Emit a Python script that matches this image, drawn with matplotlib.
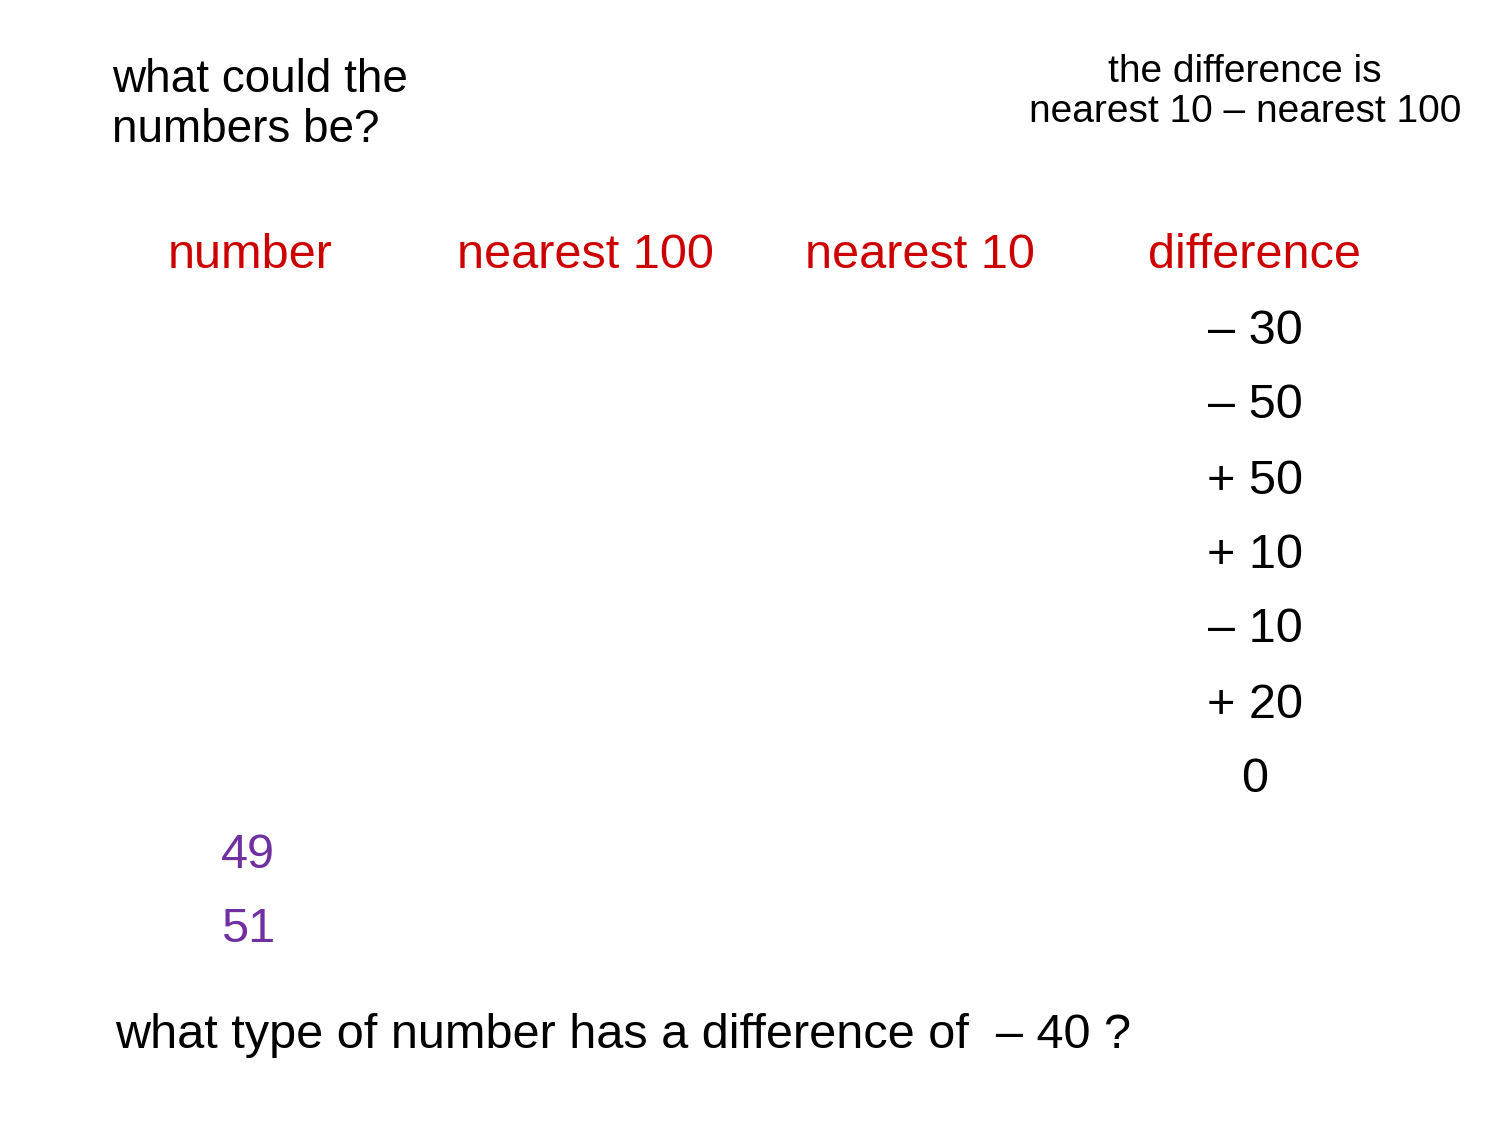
import matplotlib
matplotlib.use('Agg')
import matplotlib.pyplot as plt

plt.rcParams['font.family'] = ['Liberation Sans', 'DejaVu Sans']

W, H = 1501, 1125
headers = ['number', 'nearest 100', 'nearest 10', 'difference']
header_x = [250, 585, 920, 1255]
differences = ['\u2013 30', '\u2013 50', '+ 50', '+ 10', '\u2013 10', '+ 20', '0']
diff_y = [332, 406, 481, 555, 630, 705, 780]
numbers = ['49', '51']
number_y = [855, 930]

fig = plt.figure(figsize=(W / 100, H / 100), dpi=100)
fig.patch.set_facecolor('white')


def put(x, y, s, **kw):
    fig.text(x / W, 1 - y / H, s, va='center', **kw)


put(112, 105, 'what could the\nnumbers be?', ha='left', fontsize=33,
    linespacing=1.15, color='black')
put(1245, 92, 'the difference is\nnearest 10 \u2013 nearest 100', ha='center',
    fontsize=28, linespacing=1.15, color='black')

for x, h in zip(header_x, headers):
    put(x, 256, h, ha='center', fontsize=35, color='#cc0000')

for y, d in zip(diff_y, differences):
    put(1255, y, d, ha='center', fontsize=35, color='black')

for y, n in zip(number_y, numbers):
    put(248, y, n, ha='center', fontsize=35, color='#7030a0')

put(115, 1035, 'what type of number has a difference of  \u2013 40 ?', ha='left',
    fontsize=35, color='black')

fig.savefig('out.png', dpi=100)
